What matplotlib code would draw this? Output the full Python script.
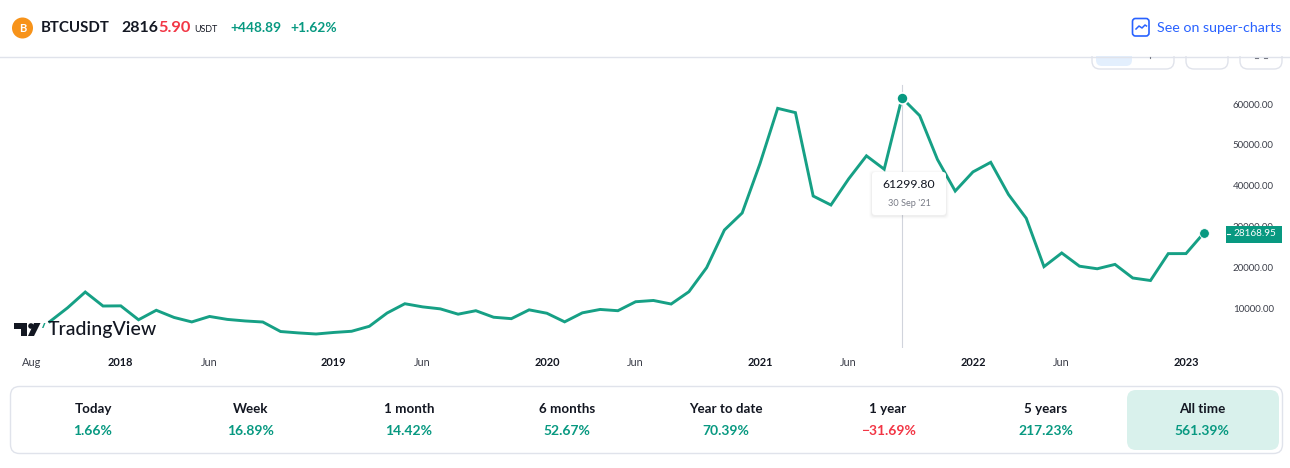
# coding: UTF-8
# BTCUSDT monthly chart card, TradingView style.

import matplotlib
matplotlib.use('Agg')
import matplotlib.pyplot as plt
from matplotlib.patches import FancyBboxPatch, Circle, Polygon, Rectangle
from matplotlib.transforms import ScaledTranslation

plt.rcParams['font.family'] = ['Lato', 'DejaVu Sans']

# Monthly values, first one sits right above the logo
months = list(range(1, 67))
closes = [6460, 9840, 13720, 10290, 10330, 6920, 9250, 7490, 6390, 7730,
          7010, 6630, 6370, 4040, 3700, 3430, 3810, 4100, 5320, 8570,
          10850, 10080, 9590, 8290, 9140, 7540, 7190, 9350, 8520, 6410,
          8620, 9450, 9140, 11340, 11650, 10780, 13790, 19700, 28920, 33090,
          45140, 58740, 57690, 37250, 35050, 41460, 47100, 43820, 61299.80,
          56950, 46210, 38470, 43160, 45510, 37630, 31800, 19940, 23290,
          20050, 19420, 20490, 17160, 16540, 23130, 23140, 28168.95]

xtick_pos = [0, 5, 10, 17, 22, 29, 34, 41, 46, 53, 58, 65]
xtick_labels = ['Aug', '2018', 'Jun', '2019', 'Jun', '2020', 'Jun', '2021', 'Jun', '2022', 'Jun', '2023']
ytick_pos = [10000, 20000, 30000, 40000, 50000, 60000]

peak_idx = 48
peak_label = '61299.80'
peak_date = "30 Sep '21"
last_label = '28168.95'

periods = ['Today', 'Week', '1 month', '6 months', 'Year to date', '1 year', '5 years', 'All time']
changes = ['1.66%', '16.89%', '14.42%', '52.67%', '70.39%', '\u221231.69%', '217.23%', '561.39%']
period_x = [93, 251, 409, 567, 726, 888, 1046, 1202]

GREEN = '#089981'
LINE = '#16a085'
RED = '#f23645'
DARK = '#131722'
GREY = '#787b86'
BORDER = '#e0e3eb'
BLUE = '#2962ff'

W, H = 1290, 468
fig = plt.figure(figsize=(W / 100, H / 100), dpi=100, facecolor='white')

# chart axes, px: x 0..1228, y 60..348. 17.754 px per month, Aug 2017 at x=32
PX_MONTH = 17.754
PX_PRICE = 0.00408
ax = fig.add_axes([0, (H - 348) / H, 1228 / W, 288 / H], facecolor='none', zorder=1)
ax.set_xlim(-32 / PX_MONTH, (1228 - 32) / PX_MONTH)
ax.set_ylim(0, 288 / PX_PRICE)
for s in ax.spines.values():
    s.set_visible(False)

# crosshair stops at y=85 px
ax.axvline(months[peak_idx], ymin=0, ymax=(348 - 85) / 288, color='#d1d4dc', lw=0.8, zorder=1)
ax.plot(months, closes, color=LINE, lw=2.1, solid_joinstyle='miter', zorder=2)
ax.plot(months[peak_idx], closes[peak_idx], 'o', ms=8, mfc=GREEN, mec='white', mew=1.2, zorder=3)
ax.plot(months[-1], closes[-1], 'o', ms=7, mfc=GREEN, mec='white', mew=0.6, zorder=3)

ax.set_xticks(xtick_pos)
ax.set_xticklabels(xtick_labels, fontsize=7.9, color=DARK)
ax.yaxis.tick_right()
ax.set_yticks(ytick_pos)
ax.set_yticklabels(['%.2f' % v for v in ytick_pos], fontsize=7, color='#3c3f4a', va='center')
ax.tick_params(axis='x', length=0, pad=6.5)
ax.tick_params(axis='y', length=0, pad=3.4)
for lab in ax.get_xticklabels():
    if lab.get_text().startswith('20'):
        lab.set_fontweight('bold')
    else:
        lab.set_color('#3c3f4a')
# price labels sit 2 px under their level
down = ScaledTranslation(0, -2 / 100, fig.dpi_scale_trans)
for lab in ax.get_yticklabels():
    lab.set_transform(lab.get_transform() + down)

# overlay in pixel coordinates for the page furniture
ov = fig.add_axes([0, 0, 1, 1], facecolor='none', zorder=2)
ov.set_xlim(0, W)
ov.set_ylim(H, 0)
ov.axis('off')


def round_box(x0, y0, x1, y1, r, **kw):
    p = FancyBboxPatch((x0 + r, y0 + r), x1 - x0 - 2 * r, y1 - y0 - 2 * r,
                       boxstyle='round,pad=%f,rounding_size=%f' % (r, r), **kw)
    ov.add_patch(p)
    return p


# range buttons, mostly cut by the header rule
round_box(1092, 40, 1174, 69, 8, fc='white', ec=BORDER, lw=1)
round_box(1096, 40, 1132, 66, 6, fc='#e3effd', ec='none')
round_box(1186, 40, 1228, 69, 8, fc='white', ec=BORDER, lw=1)
round_box(1240, 40, 1282, 69, 8, fc='white', ec=BORDER, lw=1)
ov.add_patch(Rectangle((0, 0), W, 56, fc='white', ec='none'))
ov.plot([0, W], [56.5, 56.5], color=BORDER, lw=1)
ov.plot([1150, 1150], [57, 58], color=GREY, lw=0.8)
ov.plot([1255, 1258], [57.5, 57.5], color=GREY, lw=0.8)
ov.plot([1264, 1267], [57.5, 57.5], color=GREY, lw=0.8)

# header
ov.add_patch(Circle((22.5, 28), 10.5, color='#f7931a', lw=0))
ov.text(22.5, 28, 'B', color='white', fontsize=8, fontweight='bold', ha='center', va='center')
ov.text(41, 28, 'BTCUSDT', color=DARK, fontsize=10.8, fontweight='bold', va='center')
ov.text(121, 28, '2816', color=DARK, fontsize=11.4, fontweight='bold', va='center')
ov.text(158, 28, '5.90', color=RED, fontsize=11.8, fontweight='bold', va='center')
ov.text(194, 29, 'USDT', color=DARK, fontsize=6.4, va='center')
ov.text(230, 28, '+448.89', color=GREEN, fontsize=9.9, fontweight='bold', va='center')
ov.text(290, 28, '+1.62%', color=GREEN, fontsize=9.9, fontweight='bold', va='center')

round_box(1132.5, 18.5, 1149, 36, 3, fc='white', ec=BLUE, lw=1.2)
ov.plot([1136, 1139, 1142, 1145, 1146.5], [29, 26, 28, 25, 26], color=BLUE, lw=1.1)
ov.text(1157, 28, 'See on super-charts', color=BLUE, fontsize=10.3, va='center')

# logo, white backing hides the start of the line
ov.add_patch(Rectangle((13, 322.5), 35, 18, fc='white', ec='none'))
ov.add_patch(Polygon([(14, 323), (27, 323), (27, 336), (21, 336), (21, 329), (14, 329)], fc=DARK, ec='none'))
ov.add_patch(Circle((31, 326), 2.8, fc=DARK, ec='none'))
ov.add_patch(Polygon([(28, 336), (34, 323), (40.5, 323), (34, 336)], fc=DARK, ec='none'))
ov.add_patch(Polygon([(42, 328), (44, 323), (45.5, 323), (43.5, 328)], fc=LINE, ec='none'))
ov.text(48, 330, 'TradingView', color=DARK, fontsize=14, fontweight='medium', va='center')

# tooltip on the peak
for grow, a in ((3, 0.012), (2, 0.02), (1, 0.03)):
    round_box(872 - grow, 172 - grow + 1, 946 + grow, 215 + grow + 1, 4, fc='black', ec='none', alpha=a)
round_box(872, 172, 946, 215, 3, fc='white', ec='none')
ov.text(909, 185, peak_label, color=DARK, fontsize=8.8, ha='center', va='center')
ov.text(909, 203, peak_date, color=GREY, fontsize=6.6, ha='center', va='center')

# last price tag
ov.add_patch(Rectangle((1226, 225.5), 56, 17, fc=GREEN, ec='none'))
ov.plot([1227, 1230], [234, 234], color='white', lw=0.8)
ov.text(1255, 234, last_label, color='white', fontsize=7.2, ha='center', va='center')

# performance strip
round_box(10.5, 386.5, 1282.5, 453.5, 9, fc='white', ec=BORDER, lw=1)
round_box(1127, 390, 1279, 450, 9, fc='#d9f1ec', ec='none')
for xc, name, val in zip(period_x, periods, changes):
    ov.text(xc, 409, name, color=DARK, fontsize=9.6, fontweight='bold', ha='center', va='center')
    col = RED if val.startswith('\u2212') else GREEN
    ov.text(xc, 431, val, color=col, fontsize=10, fontweight='bold', ha='center', va='center')

fig.savefig('out.png', dpi=100, facecolor='white')
